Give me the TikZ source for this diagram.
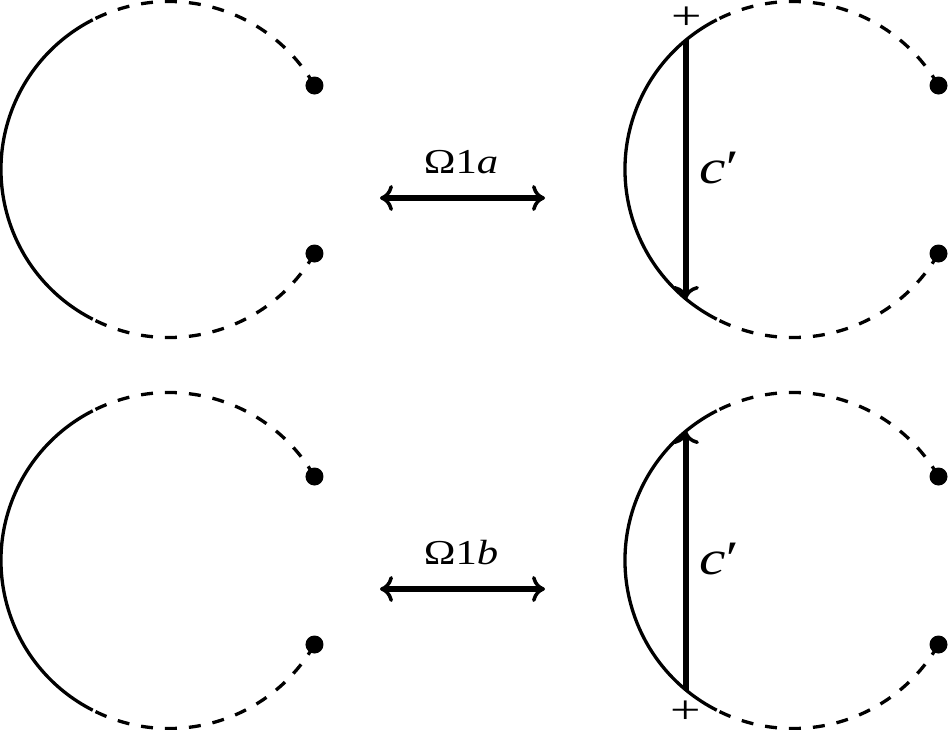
\documentclass[tikz,border=0pt]{standalone}
\usepackage{fontspec}
\setmainfont{Liberation Serif}
\newfontfamily\movefont[FakeStretch=1.22]{Liberation Serif}
\newfontfamily\chordfont[FakeStretch=1.24]{Liberation Serif}
\newfontfamily\signfont[FakeStretch=1.35]{Liberation Serif}
\usetikzlibrary{arrows.meta}
\begin{document}
\begin{tikzpicture}[x=1pt,y=-1pt,
  solidarc/.style={line width=3.3pt},
  dasharc/.style={line width=3.3pt,dash pattern=on 12pt off 12pt},
  dotnode/.style={circle,fill=black,inner sep=0pt,minimum size=18pt},
  cmtip/.style={},
  chord/.style={line width=5.5pt,-{Computer Modern Rightarrow[length=13pt,width=26pt,line width=3.5pt]}},
  movearrow/.style={line width=5.5pt,{Computer Modern Rightarrow[length=13pt,width=26pt,line width=3.5pt]}-{Computer Modern Rightarrow[length=13pt,width=26pt,line width=3.5pt]}},
  movelabel/.style={anchor=base,inner sep=0pt,font=\movefont\fontsize{35}{35}\selectfont},
  chordlabel/.style={anchor=base west,inner sep=0pt,font=\chordfont\fontsize{48}{48}\selectfont},
  signlabel/.style={anchor=center,inner sep=0pt,font=\signfont\fontsize{40}{40}\selectfont}]
\useasboundingbox (0,0) rectangle (948,729);
% centres
\coordinate (tl) at (169,169.5);
\coordinate (bl) at (169,560.5);
\coordinate (tr) at (793,169.5);
\coordinate (br) at (793,560.5);
% circles
\foreach \c in {tl,bl,tr,br}{
  \draw[solidarc] ([shift={(117:168)}]\c) arc[start angle=117,end angle=243,radius=168];
  \draw[dasharc] ([shift={(30:168)}]\c) arc[start angle=30,end angle=117,radius=168];
  \draw[dasharc] ([shift={(-30:168)}]\c) arc[start angle=-30,end angle=-117,radius=168];
  \node[dotnode] (\c-d1) at ([shift={(30:168)}]\c) {};
  \node[dotnode] (\c-d2) at ([shift={(-30:168)}]\c) {};
  \coordinate (\c-up) at ([shift={(-129.6:168)}]\c);
  \coordinate (\c-dn) at ([shift={(129.6:168)}]\c);
}
% chords
\draw[chord] (tr-up) -- (tr-dn);
\draw[chord] (br-dn) -- (br-up);
\node[signlabel] (plusa) at (687,18.5) {+};
\node[signlabel] (plusb) at (686,712.5) {+};
\node[chordlabel] (ca) at (699,183) {\itshape c\kern-3pt′};
\node[chordlabel] (cb) at (699,574) {\itshape c\kern-3pt′};
% moves
\coordinate (mla) at (380,198);
\coordinate (mra) at (545,198);
\coordinate (mlb) at (380,589);
\coordinate (mrb) at (545,589);
\draw[movearrow] (mla) -- (mra);
\draw[movearrow] (mlb) -- (mrb);
\node[movelabel] (la) at (461,173) {Ω1\textit{a}};
\node[movelabel] (lb) at (461,564) {Ω1\textit{b}};
\end{tikzpicture}
\end{document}
